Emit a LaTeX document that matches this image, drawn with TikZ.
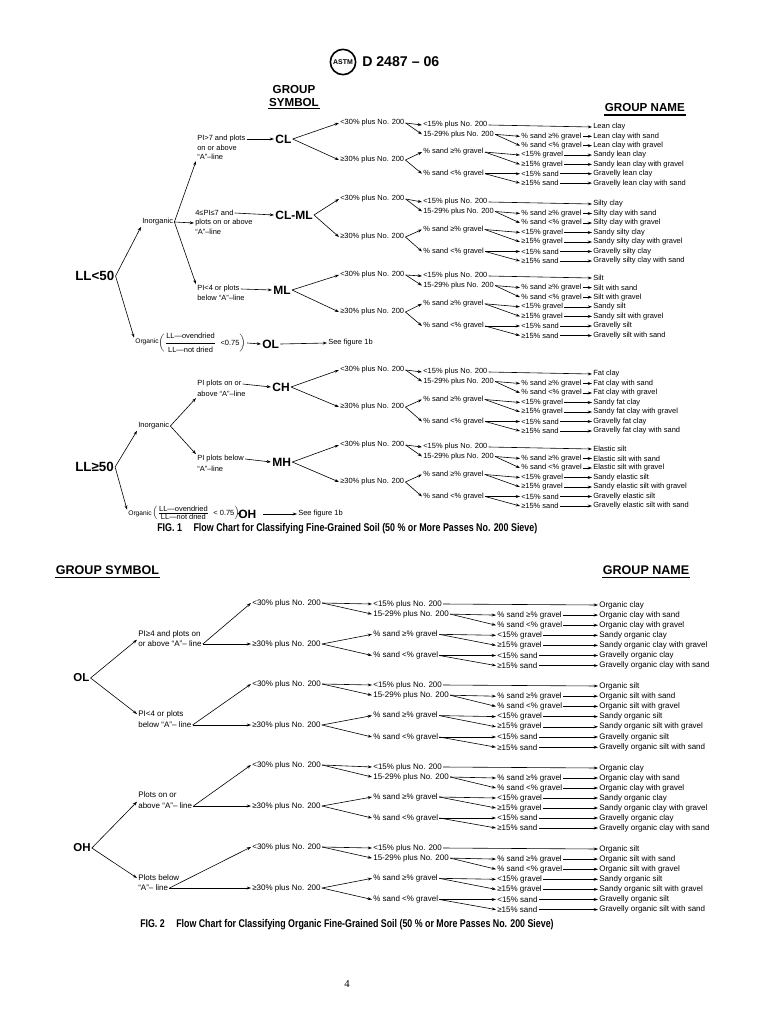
\documentclass[tikz,border=0pt]{standalone}
\usepackage{amsmath}
\usepackage{fontspec}
\setmainfont{Liberation Sans}
\newfontfamily\serifnum{Liberation Serif}
\usepackage{graphicx}
\usetikzlibrary{arrows.meta}
\tikzset{
 ar/.style={-{Stealth[length=3.2pt,width=2.2pt]}, line width=0.45pt},
 ta/.style={anchor=west, inner sep=0.8pt, font=\fontsize{5.6}{6.5}\selectfont},
 tsm/.style={anchor=west, inner sep=0.8pt, font=\fontsize{5}{6}\selectfont},
 tb/.style={anchor=west, inner sep=0.8pt, font=\fontsize{6}{7}\selectfont},
 syma/.style={anchor=west, inner sep=0.8pt, font=\bfseries\fontsize{9}{10}\selectfont},
 symb/.style={anchor=west, inner sep=0.8pt, font=\bfseries\fontsize{8.6}{10}\selectfont},
 llsym/.style={anchor=west, inner sep=0.8pt, font=\bfseries\fontsize{10}{11}\selectfont},
 hda/.style={font=\bfseries\fontsize{8.7}{9.5}\selectfont, inner sep=0.5pt, align=center},
 hdb/.style={font=\bfseries\fontsize{9.4}{10}\selectfont, inner sep=0.5pt, anchor=west},
 uline/.style={line width=0.9pt},
 capt/.style={anchor=west, inner sep=0pt, font=\bfseries\fontsize{8.4}{10}\selectfont},
}
\newcommand{\grp}[7]{%
 \node[tt] (#1a1) at (\xa,#5) {<30\% plus No. 200};
 \node[tt] (#1a2) at (\xa,#6) {≥30\% plus No. 200};
 \draw[ar] (#4) -- (#1a1.west);
 \draw[ar] (#4) -- (#1a2.west);
 \node[tt] (#1b1) at (\xb,{#2-\bsh}) {<15\% plus No. 200};
 \node[tt] (#1b2) at (\xb,{#2+#3-\bsh}) {15-29\% plus No. 200};
 \node[tt] (#1b3) at (\xb,{#2+3*#3-\bshb}) {\% sand ≥\% gravel};
 \node[tt] (#1b4) at (\xb,{#2+5*#3}) {\% sand <\% gravel};
 \node[tt] (#1c2) at (\xc,{#2+#3}) {\% sand ≥\% gravel};
 \node[tt] (#1c3) at (\xc,{#2+2*#3}) {\% sand <\% gravel};
 \node[tt] (#1c4) at (\xc,{#2+3*#3}) {<15\% gravel};
 \node[tt] (#1c5) at (\xc,{#2+4*#3}) {≥15\% gravel};
 \node[tt] (#1c6) at (\xc,{#2+5*#3}) {<15\% sand};
 \node[tt] (#1c7) at (\xc,{#2+6*#3}) {≥15\% sand};
 \foreach \nm [count=\i] in {#7} {\node[tt] (#1d\i) at (\xd,{#2+(\i-1)*#3}) {\nm};}
 \draw[ar] (#1a1.east) -- (#1b1.west);
 \draw[ar] (#1a1.east) -- (#1b2.west);
 \draw[ar] (#1b1.east) -- (#1d1.west);
 \draw[ar] (#1b2.east) -- (#1c2.west);
 \draw[ar] (#1b2.east) -- (#1c3.west);
 \draw[ar] (#1a2.east) -- (#1b3.west);
 \draw[ar] (#1a2.east) -- (#1b4.west);
 \draw[ar] (#1b3.east) -- (#1c4.west);
 \draw[ar] (#1b3.east) -- (#1c5.west);
 \draw[ar] (#1b4.east) -- (#1c6.west);
 \draw[ar] (#1b4.east) -- (#1c7.west);
 \foreach \i in {2,...,7} {\draw[ar] (#1c\i.east) -- (#1d\i.west);}
}
\begin{document}
\begin{tikzpicture}[x=0.75pt,y=-0.75pt]
\useasboundingbox (0,0) rectangle (768,1024);
% header
\node[circle, draw, line width=1.2pt, minimum size=19pt, inner sep=0pt, font=\bfseries\fontsize{5.2}{6}\selectfont] (logo) at (343,62) {ASTM};
\node[anchor=west, inner sep=0pt, font=\bfseries\fontsize{10.6}{12}\selectfont] (docid) at (362,62) {D 2487 – 06};
\node[hda] (gs1) at (294,96) {GROUP\\SYMBOL};
\draw[uline] ([yshift=-1pt]gs1.south west) -- ([yshift=-1pt]gs1.south east);
\node[hda, anchor=west] (gn1) at (604,108) {GROUP NAME};
\draw[uline] ([yshift=-1.5pt]gn1.south west) -- ([yshift=-1.5pt]gn1.south east);
% ---------------- Fig 1 --------------
\tikzset{tt/.style=ta}
\def\xa{339}\def\xb{422}\def\xc{520}\def\xd{592}\def\bsh{2}\def\bshb{3}
\node[llsym] (LLa) at (74,276) {LL<50};
\node[ta] (inorg1) at (141,222) {Inorganic};
\node[tsm] (org1) at (134,342) {Organic};
\draw[ar] (LLa.east) -- (inorg1.south west);
\draw[ar] (LLa.east) -- (org1.north west);
\node[ta] (c1a) at (196,139) {PI>7 and plots};
\node[ta] (c1b) at (196,148) {on or above};
\node[ta] (c1c) at (196,157) {“A”–line};
\node[ta] (c2a) at (194,213) {4≤PI≤7 and};
\node[ta] (c2b) at (194,223) {plots on or above};
\node[ta] (c2c) at (194,232) {“A”–line};
\node[ta] (c3a) at (196,289) {PI<4 or plots};
\node[ta] (c3b) at (196,298) {below “A”–line};
\draw[ar] (inorg1.east) -- (c1c.south west);
\draw[ar] (inorg1.east) -- (c2b.west);
\draw[ar] (inorg1.east) -- (c3a.north west);
\node[syma] (CL) at (274,139) {CL};
\node[syma] (CLML) at (274,215) {CL-ML};
\node[syma] (ML) at (272,290) {ML};
\draw[ar] (c1a.east) -- (CL.west);
\draw[ar] (c2a.east) -- (CLML.west);
\draw[ar] (c3a.east) -- (ML.west);
\grp{cl}{127}{9.35}{CL.east}{123}{160}{Lean clay,Lean clay with sand,Lean clay with gravel,Sandy lean clay,Sandy lean clay with gravel,Gravelly lean clay,Gravelly lean clay with sand}
\grp{cm}{204}{9.5}{CLML.east}{199}{237}{Silty clay,Silty clay with sand,Silty clay with gravel,Sandy silty clay,Sandy silty clay with gravel,Gravelly silty clay,Gravelly silty clay with sand}
\grp{ml}{278}{9.6}{ML.east}{275}{312}{Silt,Silt with sand,Silt with gravel,Sandy silt,Sandy silt with gravel,Gravelly silt,Gravelly silt with sand}
\node[ta] (ex1) at (157,343) {$\left(\genfrac{}{}{0.4pt}{0}{\mbox{LL—ovendried}}{\mbox{LL—not dried}}\ \ \mbox{<0.75}\right)$};
\node[syma] (OLa) at (261,344) {OL};
\node[ta] (see1) at (327,343) {See figure 1b};
\draw[ar] (ex1.east) -- (OLa.west);
\draw[ar] (OLa.east) -- (see1.west);
% LL>=50
\node[llsym] (LLb) at (74,467) {LL≥50};
\node[ta] (inorg2) at (137,426) {Inorganic};
\node[tsm] (org2) at (127,514) {Organic};
\draw[ar] (LLb.east) -- (inorg2.south west);
\draw[ar] (LLb.east) -- (org2.north west);
\node[ta] (d1a) at (196,384) {PI plots on or};
\node[ta] (d1b) at (196,394) {above “A”–line};
\node[ta] (d2a) at (196,459) {PI plots below};
\node[ta] (d2b) at (196,469) {“A”–line};
\draw[ar] (inorg2.east) -- (d1b.south west);
\draw[ar] (inorg2.east) -- (d2a.north west);
\node[syma] (CH) at (271,387) {CH};
\node[syma] (MH) at (271,462) {MH};
\draw[ar] (d1a.east) -- (CH.west);
\draw[ar] (d2a.east) -- (MH.west);
\grp{ch}{374}{9.5}{CH.east}{370}{407}{Fat clay,Fat clay with sand,Fat clay with gravel,Sandy fat clay,Sandy fat clay with gravel,Gravelly fat clay,Gravelly fat clay with sand}
\grp{mh}{449}{9.5}{MH.east}{445}{482}{Elastic silt,Elastic silt with sand,Elastic silt with gravel,Sandy elastic silt,Sandy elastic silt with gravel,Gravelly elastic silt,Gravelly elastic silt with sand}
\node[ta] (ex2) at (151,513) {$\left(\genfrac{}{}{0.4pt}{1}{\mbox{LL—ovendried}}{\mbox{LL—not dried}}\ \ \mbox{< 0.75}\right)$};
\node[syma] (OHa) at (237,514) {OH};
\node[ta] (see2) at (297,514) {See figure 1b};
\draw[ar] (ex2.east) -- (OHa.west);
\draw[ar] ([xshift=4pt]OHa.east) -- (see2.west);
\node[capt] (cap1) at (157,529) {\resizebox{285pt}{\height}{FIG. 1\hspace{1.3em}Flow Chart for Classifying Fine-Grained Soil (50~\% or More Passes No. 200 Sieve)}};
% ---------------- Fig 2 --------------
\node[hdb] (gs2) at (55,570) {GROUP SYMBOL};
\draw[uline] ([yshift=-1.5pt]gs2.south west) -- ([yshift=-1.5pt]gs2.south east);
\node[hdb] (gn2) at (602,570) {GROUP NAME};
\draw[uline] ([yshift=-1.5pt]gn2.south west) -- ([yshift=-1.5pt]gn2.south east);
\tikzset{tt/.style=tb}
\def\xa{251}\def\xb{372}\def\xc{496}\def\xd{598}\def\bsh{1}\def\bshb{1}
\node[symb] (OLb) at (72,678) {OL};
\node[tb] (e1a) at (137,634) {PI≥4 and plots on};
\node[tb] (e1b) at (137,644) {or above “A”– line};
\node[tb] (e2a) at (137,714) {PI<4 or plots};
\node[tb] (e2b) at (137,725) {below “A”– line};
\draw[ar] (OLb.east) -- (e1b.north west);
\draw[ar] (OLb.east) -- (e2a.west);
\grp{p}{605}{10.1}{e1b.east}{603}{644}{Organic clay,Organic clay with sand,Organic clay with gravel,Sandy organic clay,Sandy organic clay with gravel,Gravelly organic clay,Gravelly organic clay with sand}
\grp{q}{686}{10.2}{e2b.east}{684}{725}{Organic silt,Organic silt with sand,Organic silt with gravel,Sandy organic silt,Sandy organic silt with gravel,Gravelly organic silt,Gravelly organic silt with sand}
\node[symb] (OHb) at (72,848) {OH};
\node[tb] (g1a) at (137,795) {Plots on or};
\node[tb] (g1b) at (137,806) {above “A”– line};
\node[tb] (g2a) at (137,878) {Plots below};
\node[tb] (g2b) at (137,888) {“A”– line};
\draw[ar] (OHb.east) -- (g1b.north west);
\draw[ar] (OHb.east) -- (g2a.west);
\grp{r}{768}{10}{g1b.east}{765}{806}{Organic clay,Organic clay with sand,Organic clay with gravel,Sandy organic clay,Sandy organic clay with gravel,Gravelly organic clay,Gravelly organic clay with sand}
\grp{s}{849}{10.1}{g2b.east}{847}{888}{Organic silt,Organic silt with sand,Organic silt with gravel,Sandy organic silt,Sandy organic silt with gravel,Gravelly organic silt,Gravelly organic silt with sand}
\node[capt] (cap2) at (140,925) {\resizebox{310pt}{\height}{FIG. 2\hspace{1.3em}Flow Chart for Classifying Organic Fine-Grained Soil (50~\% or More Passes No. 200 Sieve)}};
\node[font=\serifnum\fontsize{8}{9}\selectfont] (pg) at (347,984) {4};
\end{tikzpicture}
\end{document}
